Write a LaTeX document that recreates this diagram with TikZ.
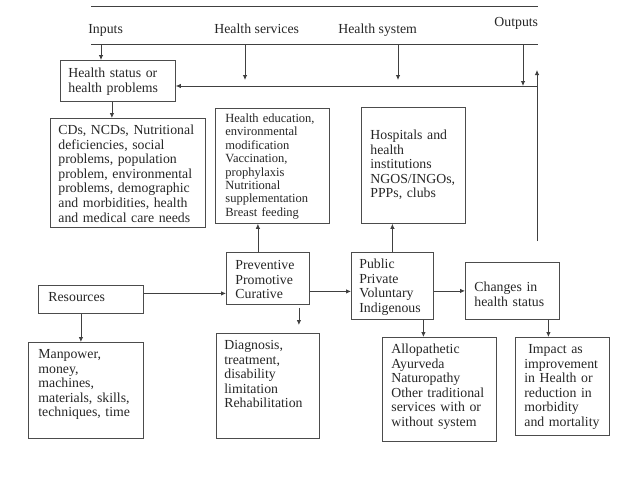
\documentclass[tikz,border=0pt]{standalone}
\usepackage{fontspec}
\setmainfont{Liberation Serif}
\usetikzlibrary{arrows.meta}

\newcommand{\boxfont}{\fontsize{13.8}{14.6}\selectfont}
\newcommand{\smallboxfont}{\fontsize{12.5}{13.4}\selectfont}

\tikzset{
  box/.style={draw=black!70, anchor=north west, align=left, inner ysep=0pt,
    text=black!85, font=\boxfont},
  head/.style={anchor=base west, inner sep=0pt, text=black!85, font=\boxfont},
  link/.style={color=black!75},
}

\begin{document}
\begin{tikzpicture}[x=1pt, y=-1pt, line width=0.8pt, >={Latex[length=5pt,width=4.5pt]}]
        \useasboundingbox (0,0) rectangle (638,479);

        % header with the four stages
        \coordinate (topL) at (91,6);
        \coordinate (topR) at (538,6);
        \coordinate (midL) at (91,44);
        \coordinate (midR) at (538,44);
        \node[head] at (88,33)(inputs){Inputs};
        \node[head] at (214,33)(services){Health services};
        \node[head] at (338,33)(system){Health system};
        \node[head] at (494,27)(outputs){Outputs};
        \draw[link] (topL) -- (topR);
        \draw[link] (midL) -- (midR);

        % boxes
        \node[box, inner xsep=8pt, text width=99pt, text height=17pt, text depth=24pt] at (60,60)(status)
            {Health status or\\health problems};
        \node[box, inner xsep=8pt, text width=139pt, text height=16pt, text depth=93pt] at (50,118)(problems)
            {CDs, NCDs, Nutritional\\deficiencies, social\\problems, population\\problem, environmental\\problems, demographic\\and morbidities, health\\and medical care needs};
        \node[box, font=\smallboxfont, inner xsep=10pt, text width=94pt, text height=14pt, text depth=101pt] at (215,108)(education)
            {Health education,\\environmental\\modification\\Vaccination,\\prophylaxis\\Nutritional\\supplementation\\Breast feeding};
        \node[box, inner xsep=9pt, text width=86pt, text height=32pt, text depth=84pt] at (361,107)(hospitals)
            {Hospitals and\\health\\institutions\\NGOS/INGOs,\\PPPs, clubs};
        \node[box, inner xsep=9pt, text width=65pt, text height=17pt, text depth=35pt] at (226,252)(care)
            {Preventive\\Promotive\\Curative};
        \node[box, inner xsep=10pt, text width=85pt, text height=16pt, text depth=12pt] at (38,285)(resources)
            {Resources};
        \node[box, inner xsep=10pt, text width=95pt, text height=16pt, text depth=80pt] at (28,342)(manpower)
            {Manpower,\\money,\\machines,\\materials, skills,\\techniques, time};
        \node[box, inner xsep=8pt, text width=87pt, text height=16pt, text depth=89pt] at (216,333)(diagnosis)
            {Diagnosis,\\treatment,\\disability\\limitation\\Rehabilitation};
        \node[box, inner xsep=8pt, text width=66pt, text height=16pt, text depth=51pt] at (351,252)(sectors)
            {Public\\Private\\Voluntary\\Indigenous};
        \node[box, inner xsep=9pt, text width=76pt, text height=29pt, text depth=28pt] at (465,262)(changes)
            {Changes in\\health status};
        \node[box, inner xsep=9pt, text width=96pt, text height=16pt, text depth=88pt] at (382,337)(systems)
            {Allopathetic\\Ayurveda\\Naturopathy\\Other traditional\\services with or\\without system};
        \node[box, inner xsep=9pt, text width=76pt, text height=16pt, text depth=82pt] at (515,337)(impact)
            {\hspace{4pt}Impact as\\improvement\\in Health or\\reduction in\\morbidity\\and mortality};

        % free ends of the feedback loop
        \coordinate (inputsTop) at (101,44);
        \coordinate (servicesTop) at (245,44);
        \coordinate (servicesEnd) at (245,80);
        \coordinate (systemTop) at (398,44);
        \coordinate (systemEnd) at (398,80);
        \coordinate (outputsTop) at (523,44);
        \coordinate (outputsEnd) at (523,86);
        \coordinate (loopRight) at (537,86);
        \coordinate (loopBottom) at (537,241);
        \coordinate (loopTop) at (537,70);

        \path[->, link]
        (inputsTop) edge (inputsTop |- status.north)
        (servicesTop) edge (servicesEnd)
        (systemTop) edge (systemEnd)
        (outputsTop) edge (outputsEnd)
        (loopRight) edge (loopRight -| status.east)
        (loopBottom) edge (loopTop)
        ([xshift=-6pt]status.south) edge ([xshift=-6pt]status.south |- problems.north)
        ([xshift=-10pt]care.north) edge ([xshift=-10pt]care.north |- education.south)
        ([yshift=6pt]resources.east) edge ([yshift=6pt]resources.east -| care.west)
        ([xshift=-10pt]resources.south) edge ([xshift=-10pt]resources.south |- manpower.north)
        ([xshift=31pt]care.south) edge [shorten <=3pt, shorten >=8pt] ([xshift=31pt]care.south |- diagnosis.north)
        ([yshift=-13pt]care.east) edge ([yshift=-13pt]care.east -| sectors.west)
        (sectors.north) edge (sectors.north |- hospitals.south)
        ([yshift=-5pt]sectors.east) edge ([yshift=-5pt]sectors.east -| changes.west)
        ([xshift=31pt]sectors.south) edge ([xshift=31pt]sectors.south |- systems.north)
        ([xshift=-14pt]impact.north |- changes.south) edge ([xshift=-14pt]impact.north)
        ;
    \end{tikzpicture}
\end{document}
